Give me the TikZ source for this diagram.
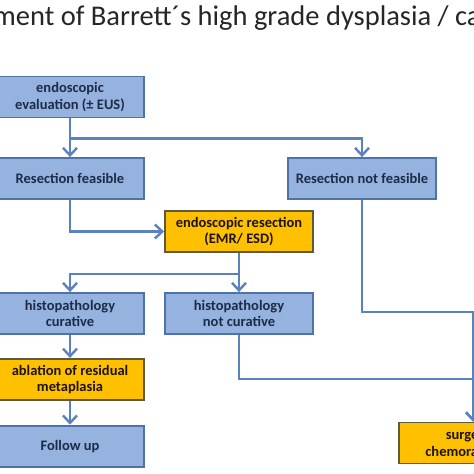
\documentclass[tikz,border=0pt]{standalone}
\usepackage{fontspec}
\setmainfont{Carlito}
\usetikzlibrary{arrows.meta, positioning}

\definecolor{boxblue}{HTML}{95B3DE}
\definecolor{edgeblue}{HTML}{5A82BE}
\definecolor{boxline}{HTML}{4E72AA}
\definecolor{boxgold}{HTML}{FFC000}
\definecolor{goldline}{HTML}{5E5A42}
\definecolor{navytext}{HTML}{1C2B48}

\begin{document}
\begin{tikzpicture}[
      x=1pt, y=-1pt,
      box/.style={rectangle, draw=boxline, line width=1.8pt, fill=boxblue,
        minimum width=148pt, minimum height=41pt, inner sep=0pt,
        align=center, text=navytext, font=\fontsize{14.5}{16.5}\selectfont\bfseries},
      goldbox/.style={box, draw=goldline, fill=boxgold, text=black!85!brown},
      edge/.style={-{Straight Barb[length=7.5pt, width=14pt]}, draw=edgeblue, line width=2.4pt}
    ]
    \clip (0,0) rectangle (474,474);
    \fill[white] (0,0) rectangle (474,474);
    \node[anchor=base west, inner sep=0pt, text=black!85,
      font=\fontsize{28.5}{34}\selectfont] (title) at (-7,25)
      {ment of Barrett´s high grade dysplasia / ca};
    % left column
    \node[box] (eval) at (70,97) {endoscopic\\evaluation (± EUS)};
    \node[box] (feas) at (70,178.5) {Resection feasible};
    \node[box] (notfeas) at (362,178.5) {Resection not feasible};
    \node[goldbox] (endres) at (239,231.5) {endoscopic resection\\(EMR/ ESD)};
    \node[box] (histocur) at (70,313.5) {histopathology\\curative};
    \node[box] (histonot) at (239,313.5) {histopathology\\not curative};
    \node[goldbox, below=23pt of histocur] (ablation) {ablation of residual\\metaplasia};
    \node[box, below=24pt of ablation] (follow) {Follow up};
    \node[goldbox] (surgery) at (473,443) {surgery /\\chemoradiation};
    % connectors
    \draw[edge] (eval) -- (feas);
    \draw[edge] (eval.south) -- ++(0,20) -| (notfeas.north);
    \draw[edge] (feas.south) |- (endres.west);
    \draw[edge] (endres.south) -- ++(0,21) -| (histocur.north);
    \draw[edge] (endres) -- (histonot);
    \draw[edge] (histocur) -- (ablation);
    \draw[edge] (ablation) -- (follow);
    \draw[edge] (notfeas.south) -- ++(0,112) -| (surgery.north);
    \draw[edge] (histonot.south) -- ++(0,44) -| (surgery.north);
\end{tikzpicture}
\end{document}
